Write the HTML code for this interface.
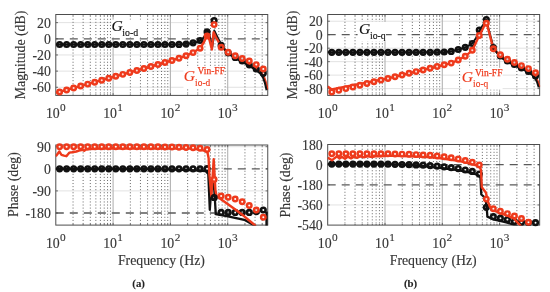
<!DOCTYPE html>
<html lang="en"><head><meta charset="utf-8"><title>Bode plots Gio-d / Gio-q with Vin-FF</title>
<style>html,body{margin:0;padding:0;background:#fff;}svg{display:block;}text{font-family:"Liberation Serif","Times New Roman",serif;stroke:#363636;stroke-width:0.14px;}.r{fill:#ee3a1c;stroke:#ee3a1c;}.k{fill:#111;stroke:#111;}</style></head><body>
<svg width="550" height="292" viewBox="0 0 550 292" font-size="13.8" fill="#363636">
<rect width="550" height="292" fill="#fff"/>
<g id="a-mag">
<line x1="55.8" x2="267.75" y1="22.64" y2="22.64" stroke="#e2e2e2" stroke-width="1"/>
<line x1="55.8" x2="267.75" y1="54.96" y2="54.96" stroke="#e2e2e2" stroke-width="1"/>
<line x1="55.8" x2="267.75" y1="71.12" y2="71.12" stroke="#e2e2e2" stroke-width="1"/>
<line x1="55.8" x2="267.75" y1="87.28" y2="87.28" stroke="#e2e2e2" stroke-width="1"/>
<line x1="73.05" x2="73.05" y1="15.7" y2="95.4" stroke="#666" stroke-width="1" stroke-dasharray="1 2.07"/>
<line x1="83.14" x2="83.14" y1="15.7" y2="95.4" stroke="#666" stroke-width="1" stroke-dasharray="1 2.07"/>
<line x1="90.3" x2="90.3" y1="15.7" y2="95.4" stroke="#666" stroke-width="1" stroke-dasharray="1 2.07"/>
<line x1="95.85" x2="95.85" y1="15.7" y2="95.4" stroke="#666" stroke-width="1" stroke-dasharray="1 2.07"/>
<line x1="100.39" x2="100.39" y1="15.7" y2="95.4" stroke="#666" stroke-width="1" stroke-dasharray="1 2.07"/>
<line x1="104.22" x2="104.22" y1="15.7" y2="95.4" stroke="#666" stroke-width="1" stroke-dasharray="1 2.07"/>
<line x1="107.55" x2="107.55" y1="15.7" y2="95.4" stroke="#666" stroke-width="1" stroke-dasharray="1 2.07"/>
<line x1="110.48" x2="110.48" y1="15.7" y2="95.4" stroke="#666" stroke-width="1" stroke-dasharray="1 2.07"/>
<line x1="130.35" x2="130.35" y1="15.7" y2="95.4" stroke="#666" stroke-width="1" stroke-dasharray="1 2.07"/>
<line x1="140.44" x2="140.44" y1="15.7" y2="95.4" stroke="#666" stroke-width="1" stroke-dasharray="1 2.07"/>
<line x1="147.6" x2="147.6" y1="15.7" y2="95.4" stroke="#666" stroke-width="1" stroke-dasharray="1 2.07"/>
<line x1="153.15" x2="153.15" y1="15.7" y2="95.4" stroke="#666" stroke-width="1" stroke-dasharray="1 2.07"/>
<line x1="157.69" x2="157.69" y1="15.7" y2="95.4" stroke="#666" stroke-width="1" stroke-dasharray="1 2.07"/>
<line x1="161.52" x2="161.52" y1="15.7" y2="95.4" stroke="#666" stroke-width="1" stroke-dasharray="1 2.07"/>
<line x1="164.85" x2="164.85" y1="15.7" y2="95.4" stroke="#666" stroke-width="1" stroke-dasharray="1 2.07"/>
<line x1="167.78" x2="167.78" y1="15.7" y2="95.4" stroke="#666" stroke-width="1" stroke-dasharray="1 2.07"/>
<line x1="187.65" x2="187.65" y1="15.7" y2="95.4" stroke="#666" stroke-width="1" stroke-dasharray="1 2.07"/>
<line x1="197.74" x2="197.74" y1="15.7" y2="95.4" stroke="#666" stroke-width="1" stroke-dasharray="1 2.07"/>
<line x1="204.9" x2="204.9" y1="15.7" y2="95.4" stroke="#666" stroke-width="1" stroke-dasharray="1 2.07"/>
<line x1="210.45" x2="210.45" y1="15.7" y2="95.4" stroke="#666" stroke-width="1" stroke-dasharray="1 2.07"/>
<line x1="214.99" x2="214.99" y1="15.7" y2="95.4" stroke="#666" stroke-width="1" stroke-dasharray="1 2.07"/>
<line x1="218.82" x2="218.82" y1="15.7" y2="95.4" stroke="#666" stroke-width="1" stroke-dasharray="1 2.07"/>
<line x1="222.15" x2="222.15" y1="15.7" y2="95.4" stroke="#666" stroke-width="1" stroke-dasharray="1 2.07"/>
<line x1="225.08" x2="225.08" y1="15.7" y2="95.4" stroke="#666" stroke-width="1" stroke-dasharray="1 2.07"/>
<line x1="244.95" x2="244.95" y1="15.7" y2="95.4" stroke="#666" stroke-width="1" stroke-dasharray="1 2.07"/>
<line x1="255.04" x2="255.04" y1="15.7" y2="95.4" stroke="#666" stroke-width="1" stroke-dasharray="1 2.07"/>
<line x1="262.2" x2="262.2" y1="15.7" y2="95.4" stroke="#666" stroke-width="1" stroke-dasharray="1 2.07"/>
<line x1="113.1" x2="113.1" y1="14.5" y2="95.4" stroke="#b3b3b3" stroke-width="1.1"/>
<line x1="170.4" x2="170.4" y1="14.5" y2="95.4" stroke="#b3b3b3" stroke-width="1.1"/>
<line x1="227.7" x2="227.7" y1="14.5" y2="95.4" stroke="#b3b3b3" stroke-width="1.1"/>
<line x1="55.8" x2="267.75" y1="38.8" y2="38.8" stroke="#5a5a5a" stroke-width="1.3" stroke-dasharray="8 6"/>
<rect x="111.6" y="19.6" width="34.8" height="17.8" fill="#fff"/>
<rect x="183.5" y="67.5" width="40.8" height="20.7" fill="#fff"/>
<clipPath id="cA"><rect x="55.5" y="13.7" width="212.85" height="82.2"/></clipPath>
<rect x="55.8" y="14.5" width="211.95" height="80.9" fill="none" stroke="#4d4d4d" stroke-width="1"/>
<path d="M55.8 22.64h2.2M267.75 22.64h-2.2M55.8 38.8h2.2M267.75 38.8h-2.2M55.8 54.96h2.2M267.75 54.96h-2.2M55.8 71.12h2.2M267.75 71.12h-2.2M55.8 87.28h2.2M267.75 87.28h-2.2M73.05 95.4v-1.1 M73.05 14.5v1.1M83.14 95.4v-1.1 M83.14 14.5v1.1M90.3 95.4v-1.1 M90.3 14.5v1.1M95.85 95.4v-1.1 M95.85 14.5v1.1M100.39 95.4v-1.1 M100.39 14.5v1.1M104.22 95.4v-1.1 M104.22 14.5v1.1M107.55 95.4v-1.1 M107.55 14.5v1.1M110.48 95.4v-1.1 M110.48 14.5v1.1M113.1 95.4v-2.2 M113.1 14.5v2.2M130.35 95.4v-1.1 M130.35 14.5v1.1M140.44 95.4v-1.1 M140.44 14.5v1.1M147.6 95.4v-1.1 M147.6 14.5v1.1M153.15 95.4v-1.1 M153.15 14.5v1.1M157.69 95.4v-1.1 M157.69 14.5v1.1M161.52 95.4v-1.1 M161.52 14.5v1.1M164.85 95.4v-1.1 M164.85 14.5v1.1M167.78 95.4v-1.1 M167.78 14.5v1.1M170.4 95.4v-2.2 M170.4 14.5v2.2M187.65 95.4v-1.1 M187.65 14.5v1.1M197.74 95.4v-1.1 M197.74 14.5v1.1M204.9 95.4v-1.1 M204.9 14.5v1.1M210.45 95.4v-1.1 M210.45 14.5v1.1M214.99 95.4v-1.1 M214.99 14.5v1.1M218.82 95.4v-1.1 M218.82 14.5v1.1M222.15 95.4v-1.1 M222.15 14.5v1.1M225.08 95.4v-1.1 M225.08 14.5v1.1M227.7 95.4v-2.2 M227.7 14.5v2.2M244.95 95.4v-1.1 M244.95 14.5v1.1M255.04 95.4v-1.1 M255.04 14.5v1.1M262.2 95.4v-1.1 M262.2 14.5v1.1" stroke="#4d4d4d" stroke-width="0.8" fill="none"/>
<g>
<polyline clip-path="url(#cA)" points="55.8,44.5 180,44.4 190,43.6 197,42 202,39.5 205,35.5 207.6,30.5 209,33 212.3,47 214.3,30.6 217.6,37.5 222.4,46.4 227.8,53.2" fill="none" stroke="#111111" stroke-width="2.0" stroke-linejoin="round" stroke-linecap="butt"/>
<circle cx="59.6" cy="44.5" r="2.3" fill="none" stroke="#111111" stroke-width="2.6"/>
<circle cx="66.62" cy="44.5" r="2.3" fill="none" stroke="#111111" stroke-width="2.6"/>
<circle cx="73.65" cy="44.5" r="2.3" fill="none" stroke="#111111" stroke-width="2.6"/>
<circle cx="80.67" cy="44.5" r="2.3" fill="none" stroke="#111111" stroke-width="2.6"/>
<circle cx="87.7" cy="44.5" r="2.3" fill="none" stroke="#111111" stroke-width="2.6"/>
<circle cx="94.72" cy="44.5" r="2.3" fill="none" stroke="#111111" stroke-width="2.6"/>
<circle cx="101.74" cy="44.5" r="2.3" fill="none" stroke="#111111" stroke-width="2.6"/>
<circle cx="108.77" cy="44.5" r="2.3" fill="none" stroke="#111111" stroke-width="2.6"/>
<circle cx="115.79" cy="44.5" r="2.3" fill="none" stroke="#111111" stroke-width="2.6"/>
<circle cx="122.82" cy="44.5" r="2.3" fill="none" stroke="#111111" stroke-width="2.6"/>
<circle cx="129.84" cy="44.5" r="2.3" fill="none" stroke="#111111" stroke-width="2.6"/>
<circle cx="136.86" cy="44.5" r="2.3" fill="none" stroke="#111111" stroke-width="2.6"/>
<circle cx="143.89" cy="44.5" r="2.3" fill="none" stroke="#111111" stroke-width="2.6"/>
<circle cx="150.91" cy="44.5" r="2.3" fill="none" stroke="#111111" stroke-width="2.6"/>
<circle cx="157.94" cy="44.5" r="2.3" fill="none" stroke="#111111" stroke-width="2.6"/>
<circle cx="164.96" cy="44.5" r="2.3" fill="none" stroke="#111111" stroke-width="2.6"/>
<circle cx="171.98" cy="44.5" r="2.3" fill="none" stroke="#111111" stroke-width="2.6"/>
<circle cx="179.01" cy="44.4" r="2.3" fill="none" stroke="#111111" stroke-width="2.6"/>
<circle cx="186.03" cy="44.1" r="2.3" fill="none" stroke="#111111" stroke-width="2.6"/>
<circle cx="193.06" cy="42.8" r="2.3" fill="none" stroke="#111111" stroke-width="2.6"/>
<circle cx="200.08" cy="40.5" r="2.3" fill="none" stroke="#111111" stroke-width="2.6"/>
<circle cx="207.1" cy="31.9" r="2.3" fill="none" stroke="#111111" stroke-width="2.6"/>
<circle cx="214.13" cy="20.5" r="2.3" fill="none" stroke="#111111" stroke-width="2.6"/>
<polyline clip-path="url(#cA)" points="55.8,92.6 59.6,91.9 66.62,89.95 73.65,88 80.67,86.05 87.7,84.1 94.72,82.15 101.74,80.2 108.77,78.25 115.79,76.3 122.82,74.35 129.84,72.4 136.86,70.45 143.89,68.5 150.91,66.5 157.94,64.5 164.96,62.5 171.98,60.4 179.01,58.2 186.03,55.7 193.06,52.6 200.08,48.3 204,42 207.4,34.5 209.5,40 211.9,49.5 213.6,32.2 215.8,37 221.2,46.6 228.2,52.8 235.2,57.2 242.2,61 249.2,64.8 256.3,69 261,72.6 263.6,76.2 265.6,82 267.5,89.6" fill="none" stroke="#ee3a1c" stroke-width="2.4" stroke-linejoin="round" stroke-linecap="butt"/>
<polyline clip-path="url(#cA)" points="222.4,46.4 227.6,53.2 234.6,57.8 241.6,61.6 248.6,65.4 255.6,69.8 260.2,73.4 262.8,77 264.8,82.6 266.6,90.2" fill="none" stroke="#111111" stroke-width="2.0" stroke-linejoin="round" stroke-linecap="butt"/>
<circle cx="221.15" cy="45.4" r="2.3" fill="none" stroke="#111111" stroke-width="2.6"/>
<circle cx="228.18" cy="52.8" r="2.3" fill="none" stroke="#111111" stroke-width="2.6"/>
<circle cx="235.2" cy="57.4" r="2.3" fill="none" stroke="#111111" stroke-width="2.6"/>
<circle cx="242.22" cy="61" r="2.3" fill="none" stroke="#111111" stroke-width="2.6"/>
<circle cx="249.25" cy="64.8" r="2.3" fill="none" stroke="#111111" stroke-width="2.6"/>
<circle cx="256.27" cy="69" r="2.3" fill="none" stroke="#111111" stroke-width="2.6"/>
<circle cx="263.3" cy="73.3" r="2.3" fill="none" stroke="#111111" stroke-width="2.6"/>
<circle cx="59.6" cy="91.9" r="2.25" fill="#fff" fill-opacity="0.82" stroke="#ee3a1c" stroke-width="2.45"/>
<circle cx="66.62" cy="89.95" r="2.25" fill="#fff" fill-opacity="0.82" stroke="#ee3a1c" stroke-width="2.45"/>
<circle cx="73.65" cy="88" r="2.25" fill="#fff" fill-opacity="0.82" stroke="#ee3a1c" stroke-width="2.45"/>
<circle cx="80.67" cy="86.05" r="2.25" fill="#fff" fill-opacity="0.82" stroke="#ee3a1c" stroke-width="2.45"/>
<circle cx="87.7" cy="84.1" r="2.25" fill="#fff" fill-opacity="0.82" stroke="#ee3a1c" stroke-width="2.45"/>
<circle cx="94.72" cy="82.15" r="2.25" fill="#fff" fill-opacity="0.82" stroke="#ee3a1c" stroke-width="2.45"/>
<circle cx="101.74" cy="80.2" r="2.25" fill="#fff" fill-opacity="0.82" stroke="#ee3a1c" stroke-width="2.45"/>
<circle cx="108.77" cy="78.25" r="2.25" fill="#fff" fill-opacity="0.82" stroke="#ee3a1c" stroke-width="2.45"/>
<circle cx="115.79" cy="76.3" r="2.25" fill="#fff" fill-opacity="0.82" stroke="#ee3a1c" stroke-width="2.45"/>
<circle cx="122.82" cy="74.35" r="2.25" fill="#fff" fill-opacity="0.82" stroke="#ee3a1c" stroke-width="2.45"/>
<circle cx="129.84" cy="72.4" r="2.25" fill="#fff" fill-opacity="0.82" stroke="#ee3a1c" stroke-width="2.45"/>
<circle cx="136.86" cy="70.45" r="2.25" fill="#fff" fill-opacity="0.82" stroke="#ee3a1c" stroke-width="2.45"/>
<circle cx="143.89" cy="68.5" r="2.25" fill="#fff" fill-opacity="0.82" stroke="#ee3a1c" stroke-width="2.45"/>
<circle cx="150.91" cy="66.5" r="2.25" fill="#fff" fill-opacity="0.82" stroke="#ee3a1c" stroke-width="2.45"/>
<circle cx="157.94" cy="64.5" r="2.25" fill="#fff" fill-opacity="0.82" stroke="#ee3a1c" stroke-width="2.45"/>
<circle cx="164.96" cy="62.5" r="2.25" fill="#fff" fill-opacity="0.82" stroke="#ee3a1c" stroke-width="2.45"/>
<circle cx="171.98" cy="60.4" r="2.25" fill="#fff" fill-opacity="0.82" stroke="#ee3a1c" stroke-width="2.45"/>
<circle cx="179.01" cy="58.2" r="2.25" fill="#fff" fill-opacity="0.82" stroke="#ee3a1c" stroke-width="2.45"/>
<circle cx="186.03" cy="55.7" r="2.25" fill="#fff" fill-opacity="0.82" stroke="#ee3a1c" stroke-width="2.45"/>
<circle cx="193.06" cy="52.6" r="2.25" fill="#fff" fill-opacity="0.82" stroke="#ee3a1c" stroke-width="2.45"/>
<circle cx="200.08" cy="48.3" r="2.25" fill="#fff" fill-opacity="0.82" stroke="#ee3a1c" stroke-width="2.45"/>
<circle cx="207.1" cy="36" r="2.25" fill="#fff" fill-opacity="0.82" stroke="#ee3a1c" stroke-width="2.45"/>
<circle cx="214.13" cy="24.6" r="2.25" fill="#fff" fill-opacity="0.82" stroke="#ee3a1c" stroke-width="2.45"/>
<circle cx="221.15" cy="47.2" r="2.25" fill="none" stroke="#ee3a1c" stroke-width="2.45"/>
<circle cx="228.18" cy="52.2" r="2.25" fill="#fff" fill-opacity="0.82" stroke="#ee3a1c" stroke-width="2.45"/>
<circle cx="235.2" cy="55.8" r="2.25" fill="#fff" fill-opacity="0.82" stroke="#ee3a1c" stroke-width="2.45"/>
<circle cx="242.22" cy="58.4" r="2.25" fill="#fff" fill-opacity="0.82" stroke="#ee3a1c" stroke-width="2.45"/>
<circle cx="249.25" cy="61" r="2.25" fill="#fff" fill-opacity="0.82" stroke="#ee3a1c" stroke-width="2.45"/>
<circle cx="256.27" cy="64.6" r="2.25" fill="#fff" fill-opacity="0.82" stroke="#ee3a1c" stroke-width="2.45"/>
<circle cx="263.3" cy="69" r="2.25" fill="#fff" fill-opacity="0.82" stroke="#ee3a1c" stroke-width="2.45"/>
<circle cx="207.1" cy="36" r="1.6" fill="#ee3a1c"/>
</g>
<text x="111.4" y="31.2" class="k" font-size="15.6" font-style="italic">G</text>
<text x="122.3" y="36" class="k" font-size="9.9">io-d</text>
<text x="183.8" y="80.8" class="r" font-size="15.6" font-style="italic">G</text>
<text x="195.1" y="85.5" class="r" font-size="9.4">io-d</text>
<text x="197.5" y="74.4" class="r" font-size="9.5" style="stroke-width:0.25px">Vin-FF</text>
<text x="50.8" y="27.74" text-anchor="end">20</text>
<text x="50.8" y="43.9" text-anchor="end">0</text>
<text x="50.8" y="60.06" text-anchor="end">-20</text>
<text x="50.8" y="76.22" text-anchor="end">-40</text>
<text x="50.8" y="92.38" text-anchor="end">-60</text>
<text x="45.88" y="117.8">10<tspan dx="0.4" dy="-6.5" font-size="11.3">0</tspan></text>
<text x="103.17" y="117.8">10<tspan dx="0.4" dy="-6.5" font-size="11.3">1</tspan></text>
<text x="160.47" y="117.8">10<tspan dx="0.4" dy="-6.5" font-size="11.3">2</tspan></text>
<text x="217.77" y="117.8">10<tspan dx="0.4" dy="-6.5" font-size="11.3">3</tspan></text>
<text transform="translate(24.6 55) rotate(-90)" text-anchor="middle">Magnitude (dB)</text>
</g>
<g id="a-ph">
<line x1="55.8" x2="267.75" y1="146.7" y2="146.7" stroke="#e2e2e2" stroke-width="1"/>
<line x1="55.8" x2="267.75" y1="190.9" y2="190.9" stroke="#e2e2e2" stroke-width="1"/>
<line x1="73.05" x2="73.05" y1="146.2" y2="225.1" stroke="#666" stroke-width="1" stroke-dasharray="1 2.07"/>
<line x1="83.14" x2="83.14" y1="146.2" y2="225.1" stroke="#666" stroke-width="1" stroke-dasharray="1 2.07"/>
<line x1="90.3" x2="90.3" y1="146.2" y2="225.1" stroke="#666" stroke-width="1" stroke-dasharray="1 2.07"/>
<line x1="95.85" x2="95.85" y1="146.2" y2="225.1" stroke="#666" stroke-width="1" stroke-dasharray="1 2.07"/>
<line x1="100.39" x2="100.39" y1="146.2" y2="225.1" stroke="#666" stroke-width="1" stroke-dasharray="1 2.07"/>
<line x1="104.22" x2="104.22" y1="146.2" y2="225.1" stroke="#666" stroke-width="1" stroke-dasharray="1 2.07"/>
<line x1="107.55" x2="107.55" y1="146.2" y2="225.1" stroke="#666" stroke-width="1" stroke-dasharray="1 2.07"/>
<line x1="110.48" x2="110.48" y1="146.2" y2="225.1" stroke="#666" stroke-width="1" stroke-dasharray="1 2.07"/>
<line x1="130.35" x2="130.35" y1="146.2" y2="225.1" stroke="#666" stroke-width="1" stroke-dasharray="1 2.07"/>
<line x1="140.44" x2="140.44" y1="146.2" y2="225.1" stroke="#666" stroke-width="1" stroke-dasharray="1 2.07"/>
<line x1="147.6" x2="147.6" y1="146.2" y2="225.1" stroke="#666" stroke-width="1" stroke-dasharray="1 2.07"/>
<line x1="153.15" x2="153.15" y1="146.2" y2="225.1" stroke="#666" stroke-width="1" stroke-dasharray="1 2.07"/>
<line x1="157.69" x2="157.69" y1="146.2" y2="225.1" stroke="#666" stroke-width="1" stroke-dasharray="1 2.07"/>
<line x1="161.52" x2="161.52" y1="146.2" y2="225.1" stroke="#666" stroke-width="1" stroke-dasharray="1 2.07"/>
<line x1="164.85" x2="164.85" y1="146.2" y2="225.1" stroke="#666" stroke-width="1" stroke-dasharray="1 2.07"/>
<line x1="167.78" x2="167.78" y1="146.2" y2="225.1" stroke="#666" stroke-width="1" stroke-dasharray="1 2.07"/>
<line x1="187.65" x2="187.65" y1="146.2" y2="225.1" stroke="#666" stroke-width="1" stroke-dasharray="1 2.07"/>
<line x1="197.74" x2="197.74" y1="146.2" y2="225.1" stroke="#666" stroke-width="1" stroke-dasharray="1 2.07"/>
<line x1="204.9" x2="204.9" y1="146.2" y2="225.1" stroke="#666" stroke-width="1" stroke-dasharray="1 2.07"/>
<line x1="210.45" x2="210.45" y1="146.2" y2="225.1" stroke="#666" stroke-width="1" stroke-dasharray="1 2.07"/>
<line x1="214.99" x2="214.99" y1="146.2" y2="225.1" stroke="#666" stroke-width="1" stroke-dasharray="1 2.07"/>
<line x1="218.82" x2="218.82" y1="146.2" y2="225.1" stroke="#666" stroke-width="1" stroke-dasharray="1 2.07"/>
<line x1="222.15" x2="222.15" y1="146.2" y2="225.1" stroke="#666" stroke-width="1" stroke-dasharray="1 2.07"/>
<line x1="225.08" x2="225.08" y1="146.2" y2="225.1" stroke="#666" stroke-width="1" stroke-dasharray="1 2.07"/>
<line x1="244.95" x2="244.95" y1="146.2" y2="225.1" stroke="#666" stroke-width="1" stroke-dasharray="1 2.07"/>
<line x1="255.04" x2="255.04" y1="146.2" y2="225.1" stroke="#666" stroke-width="1" stroke-dasharray="1 2.07"/>
<line x1="262.2" x2="262.2" y1="146.2" y2="225.1" stroke="#666" stroke-width="1" stroke-dasharray="1 2.07"/>
<line x1="113.1" x2="113.1" y1="145" y2="225.1" stroke="#b3b3b3" stroke-width="1.1"/>
<line x1="170.4" x2="170.4" y1="145" y2="225.1" stroke="#b3b3b3" stroke-width="1.1"/>
<line x1="227.7" x2="227.7" y1="145" y2="225.1" stroke="#b3b3b3" stroke-width="1.1"/>
<line x1="55.8" x2="267.75" y1="168.8" y2="168.8" stroke="#5a5a5a" stroke-width="1.3" stroke-dasharray="8 6"/>
<line x1="55.8" x2="267.75" y1="213.01" y2="213.01" stroke="#5a5a5a" stroke-width="1.3" stroke-dasharray="8 6"/>
<clipPath id="cAp"><rect x="55.5" y="144.2" width="212.85" height="81.4"/></clipPath>
<rect x="55.8" y="145" width="211.95" height="80.1" fill="none" stroke="#4d4d4d" stroke-width="1"/>
<path d="M55.8 146.7h2.2M267.75 146.7h-2.2M55.8 168.8h2.2M267.75 168.8h-2.2M55.8 190.9h2.2M267.75 190.9h-2.2M55.8 213.01h2.2M267.75 213.01h-2.2M73.05 225.1v-1.1 M73.05 145v1.1M83.14 225.1v-1.1 M83.14 145v1.1M90.3 225.1v-1.1 M90.3 145v1.1M95.85 225.1v-1.1 M95.85 145v1.1M100.39 225.1v-1.1 M100.39 145v1.1M104.22 225.1v-1.1 M104.22 145v1.1M107.55 225.1v-1.1 M107.55 145v1.1M110.48 225.1v-1.1 M110.48 145v1.1M113.1 225.1v-2.2 M113.1 145v2.2M130.35 225.1v-1.1 M130.35 145v1.1M140.44 225.1v-1.1 M140.44 145v1.1M147.6 225.1v-1.1 M147.6 145v1.1M153.15 225.1v-1.1 M153.15 145v1.1M157.69 225.1v-1.1 M157.69 145v1.1M161.52 225.1v-1.1 M161.52 145v1.1M164.85 225.1v-1.1 M164.85 145v1.1M167.78 225.1v-1.1 M167.78 145v1.1M170.4 225.1v-2.2 M170.4 145v2.2M187.65 225.1v-1.1 M187.65 145v1.1M197.74 225.1v-1.1 M197.74 145v1.1M204.9 225.1v-1.1 M204.9 145v1.1M210.45 225.1v-1.1 M210.45 145v1.1M214.99 225.1v-1.1 M214.99 145v1.1M218.82 225.1v-1.1 M218.82 145v1.1M222.15 225.1v-1.1 M222.15 145v1.1M225.08 225.1v-1.1 M225.08 145v1.1M227.7 225.1v-2.2 M227.7 145v2.2M244.95 225.1v-1.1 M244.95 145v1.1M255.04 225.1v-1.1 M255.04 145v1.1M262.2 225.1v-1.1 M262.2 145v1.1" stroke="#4d4d4d" stroke-width="0.8" fill="none"/>
<g>
<polyline clip-path="url(#cAp)" points="55.8,168.8 150,168.9 175,169.6 195,170.4 205.5,171 208.3,174 209.8,209.8 211.2,190 212.8,183 214.3,190 215.8,214.1 228,216.3 244.3,219.8 252.7,224.6 256,227" fill="none" stroke="#111111" stroke-width="2.3" stroke-linejoin="round" stroke-linecap="butt"/>
<polyline clip-path="url(#cAp)" points="266.5,211.6 266.5,226" fill="none" stroke="#111111" stroke-width="2.3" stroke-linejoin="round" stroke-linecap="butt"/>
<circle cx="59.6" cy="168.8" r="2.3" fill="none" stroke="#111111" stroke-width="2.6"/>
<circle cx="66.62" cy="168.8" r="2.3" fill="none" stroke="#111111" stroke-width="2.6"/>
<circle cx="73.65" cy="168.8" r="2.3" fill="none" stroke="#111111" stroke-width="2.6"/>
<circle cx="80.67" cy="168.8" r="2.3" fill="none" stroke="#111111" stroke-width="2.6"/>
<circle cx="87.7" cy="168.8" r="2.3" fill="none" stroke="#111111" stroke-width="2.6"/>
<circle cx="94.72" cy="168.8" r="2.3" fill="none" stroke="#111111" stroke-width="2.6"/>
<circle cx="101.74" cy="168.8" r="2.3" fill="none" stroke="#111111" stroke-width="2.6"/>
<circle cx="108.77" cy="168.8" r="2.3" fill="none" stroke="#111111" stroke-width="2.6"/>
<circle cx="115.79" cy="168.8" r="2.3" fill="none" stroke="#111111" stroke-width="2.6"/>
<circle cx="122.82" cy="168.8" r="2.3" fill="none" stroke="#111111" stroke-width="2.6"/>
<circle cx="129.84" cy="168.8" r="2.3" fill="none" stroke="#111111" stroke-width="2.6"/>
<circle cx="136.86" cy="168.8" r="2.3" fill="none" stroke="#111111" stroke-width="2.6"/>
<circle cx="143.89" cy="168.8" r="2.3" fill="none" stroke="#111111" stroke-width="2.6"/>
<circle cx="150.91" cy="168.8" r="2.3" fill="none" stroke="#111111" stroke-width="2.6"/>
<circle cx="157.94" cy="168.8" r="2.3" fill="none" stroke="#111111" stroke-width="2.6"/>
<circle cx="164.96" cy="168.8" r="2.3" fill="none" stroke="#111111" stroke-width="2.6"/>
<circle cx="171.98" cy="168.8" r="2.3" fill="none" stroke="#111111" stroke-width="2.6"/>
<circle cx="179.01" cy="168.8" r="2.3" fill="none" stroke="#111111" stroke-width="2.6"/>
<circle cx="186.03" cy="168.8" r="2.3" fill="none" stroke="#111111" stroke-width="2.6"/>
<circle cx="193.06" cy="168.8" r="2.3" fill="none" stroke="#111111" stroke-width="2.6"/>
<circle cx="200.08" cy="168.8" r="2.3" fill="none" stroke="#111111" stroke-width="2.6"/>
<circle cx="207.1" cy="168.7" r="2.3" fill="none" stroke="#111111" stroke-width="2.6"/>
<circle cx="214.13" cy="197.4" r="2.3" fill="none" stroke="#111111" stroke-width="2.6"/>
<circle cx="221.15" cy="212.4" r="2.3" fill="none" stroke="#111111" stroke-width="2.6"/>
<circle cx="228.18" cy="212.4" r="2.3" fill="none" stroke="#111111" stroke-width="2.6"/>
<circle cx="235.2" cy="212.4" r="2.3" fill="none" stroke="#111111" stroke-width="2.6"/>
<circle cx="242.22" cy="212.4" r="2.3" fill="none" stroke="#111111" stroke-width="2.6"/>
<circle cx="249.25" cy="212.4" r="2.3" fill="none" stroke="#111111" stroke-width="2.6"/>
<circle cx="256.27" cy="211.6" r="2.3" fill="none" stroke="#111111" stroke-width="2.6"/>
<circle cx="263.3" cy="210" r="2.3" fill="none" stroke="#111111" stroke-width="2.6"/>
<polyline clip-path="url(#cAp)" points="55.8,156.4 57.5,154 59.3,151.5 61.5,154.8 64,155.6 66.4,156.2 68,154.2 69.4,152.6 72,152.3 76.3,151.5 79,150.6 82.9,149.9 84.2,150.8 86,149.5 90,149 95,148.8 110,148.3 190,148.6 200,149.6 205.5,151 207.6,153 208.6,158 209.4,175 211.4,196.5 213.7,159.3 215.4,190 216.6,196 221,199.2 228,204.3 236,210 244.3,216.3 251,222 255.8,226" fill="none" stroke="#ee3a1c" stroke-width="2.4" stroke-linejoin="round" stroke-linecap="butt"/>
<circle cx="59.6" cy="146.8" r="2.25" fill="#fff" fill-opacity="0.82" stroke="#ee3a1c" stroke-width="2.45"/>
<circle cx="66.62" cy="146.8" r="2.25" fill="#fff" fill-opacity="0.82" stroke="#ee3a1c" stroke-width="2.45"/>
<circle cx="73.65" cy="146.8" r="2.25" fill="#fff" fill-opacity="0.82" stroke="#ee3a1c" stroke-width="2.45"/>
<circle cx="80.67" cy="146.8" r="2.25" fill="#fff" fill-opacity="0.82" stroke="#ee3a1c" stroke-width="2.45"/>
<circle cx="87.7" cy="146.8" r="2.25" fill="#fff" fill-opacity="0.82" stroke="#ee3a1c" stroke-width="2.45"/>
<circle cx="94.72" cy="146.8" r="2.25" fill="#fff" fill-opacity="0.82" stroke="#ee3a1c" stroke-width="2.45"/>
<circle cx="101.74" cy="146.8" r="2.25" fill="#fff" fill-opacity="0.82" stroke="#ee3a1c" stroke-width="2.45"/>
<circle cx="108.77" cy="146.8" r="2.25" fill="#fff" fill-opacity="0.82" stroke="#ee3a1c" stroke-width="2.45"/>
<circle cx="115.79" cy="146.8" r="2.25" fill="#fff" fill-opacity="0.82" stroke="#ee3a1c" stroke-width="2.45"/>
<circle cx="122.82" cy="146.8" r="2.25" fill="#fff" fill-opacity="0.82" stroke="#ee3a1c" stroke-width="2.45"/>
<circle cx="129.84" cy="146.8" r="2.25" fill="#fff" fill-opacity="0.82" stroke="#ee3a1c" stroke-width="2.45"/>
<circle cx="136.86" cy="146.8" r="2.25" fill="#fff" fill-opacity="0.82" stroke="#ee3a1c" stroke-width="2.45"/>
<circle cx="143.89" cy="146.8" r="2.25" fill="#fff" fill-opacity="0.82" stroke="#ee3a1c" stroke-width="2.45"/>
<circle cx="150.91" cy="146.8" r="2.25" fill="#fff" fill-opacity="0.82" stroke="#ee3a1c" stroke-width="2.45"/>
<circle cx="157.94" cy="146.8" r="2.25" fill="#fff" fill-opacity="0.82" stroke="#ee3a1c" stroke-width="2.45"/>
<circle cx="164.96" cy="146.9" r="2.25" fill="#fff" fill-opacity="0.82" stroke="#ee3a1c" stroke-width="2.45"/>
<circle cx="171.98" cy="147" r="2.25" fill="#fff" fill-opacity="0.82" stroke="#ee3a1c" stroke-width="2.45"/>
<circle cx="179.01" cy="147.2" r="2.25" fill="#fff" fill-opacity="0.82" stroke="#ee3a1c" stroke-width="2.45"/>
<circle cx="186.03" cy="147.4" r="2.25" fill="#fff" fill-opacity="0.82" stroke="#ee3a1c" stroke-width="2.45"/>
<circle cx="193.06" cy="147.7" r="2.25" fill="#fff" fill-opacity="0.82" stroke="#ee3a1c" stroke-width="2.45"/>
<circle cx="200.08" cy="148.3" r="2.25" fill="#fff" fill-opacity="0.82" stroke="#ee3a1c" stroke-width="2.45"/>
<circle cx="207.1" cy="149.5" r="2.25" fill="#fff" fill-opacity="0.82" stroke="#ee3a1c" stroke-width="2.45"/>
<circle cx="214.13" cy="179.5" r="2.25" fill="#fff" fill-opacity="0.82" stroke="#ee3a1c" stroke-width="2.45"/>
<circle cx="221.15" cy="196" r="2.25" fill="#fff" fill-opacity="0.82" stroke="#ee3a1c" stroke-width="2.45"/>
<circle cx="228.18" cy="197.3" r="2.25" fill="#fff" fill-opacity="0.82" stroke="#ee3a1c" stroke-width="2.45"/>
<circle cx="235.2" cy="199" r="2.25" fill="#fff" fill-opacity="0.82" stroke="#ee3a1c" stroke-width="2.45"/>
<circle cx="242.22" cy="201.8" r="2.25" fill="#fff" fill-opacity="0.82" stroke="#ee3a1c" stroke-width="2.45"/>
<circle cx="249.25" cy="205.5" r="2.25" fill="#fff" fill-opacity="0.82" stroke="#ee3a1c" stroke-width="2.45"/>
<circle cx="256.27" cy="210" r="2.25" fill="#fff" fill-opacity="0.82" stroke="#ee3a1c" stroke-width="2.45"/>
<circle cx="263.3" cy="217.3" r="2.25" fill="#fff" fill-opacity="0.82" stroke="#ee3a1c" stroke-width="2.45"/>
<circle cx="214.13" cy="197.4" r="2.3" fill="none" stroke="#111111" stroke-width="2.4"/>
</g>
<text x="50.8" y="151.8" text-anchor="end">90</text>
<text x="50.8" y="173.9" text-anchor="end">0</text>
<text x="50.8" y="196" text-anchor="end">-90</text>
<text x="50.8" y="218.11" text-anchor="end">-180</text>
<text x="45.88" y="247.5">10<tspan dx="0.4" dy="-6.5" font-size="11.3">0</tspan></text>
<text x="103.17" y="247.5">10<tspan dx="0.4" dy="-6.5" font-size="11.3">1</tspan></text>
<text x="160.47" y="247.5">10<tspan dx="0.4" dy="-6.5" font-size="11.3">2</tspan></text>
<text x="217.77" y="247.5">10<tspan dx="0.4" dy="-6.5" font-size="11.3">3</tspan></text>
<text transform="translate(17.5 184.6) rotate(-90)" text-anchor="middle">Phase (deg)</text>
<text x="161.4" y="265.3" text-anchor="middle">Frequency (Hz)</text>
<text x="138.6" y="286.6" text-anchor="middle" font-size="10.8" font-weight="bold" fill="#222">(a)</text>
</g>
<g id="b-mag">
<line x1="327.7" x2="539.65" y1="21.22" y2="21.22" stroke="#e2e2e2" stroke-width="1"/>
<line x1="327.7" x2="539.65" y1="48.18" y2="48.18" stroke="#e2e2e2" stroke-width="1"/>
<line x1="327.7" x2="539.65" y1="61.66" y2="61.66" stroke="#e2e2e2" stroke-width="1"/>
<line x1="327.7" x2="539.65" y1="75.14" y2="75.14" stroke="#e2e2e2" stroke-width="1"/>
<line x1="327.7" x2="539.65" y1="88.62" y2="88.62" stroke="#e2e2e2" stroke-width="1"/>
<line x1="344.95" x2="344.95" y1="15.7" y2="95.4" stroke="#666" stroke-width="1" stroke-dasharray="1 2.07"/>
<line x1="355.04" x2="355.04" y1="15.7" y2="95.4" stroke="#666" stroke-width="1" stroke-dasharray="1 2.07"/>
<line x1="362.2" x2="362.2" y1="15.7" y2="95.4" stroke="#666" stroke-width="1" stroke-dasharray="1 2.07"/>
<line x1="367.75" x2="367.75" y1="15.7" y2="95.4" stroke="#666" stroke-width="1" stroke-dasharray="1 2.07"/>
<line x1="372.29" x2="372.29" y1="15.7" y2="95.4" stroke="#666" stroke-width="1" stroke-dasharray="1 2.07"/>
<line x1="376.12" x2="376.12" y1="15.7" y2="95.4" stroke="#666" stroke-width="1" stroke-dasharray="1 2.07"/>
<line x1="379.45" x2="379.45" y1="15.7" y2="95.4" stroke="#666" stroke-width="1" stroke-dasharray="1 2.07"/>
<line x1="382.38" x2="382.38" y1="15.7" y2="95.4" stroke="#666" stroke-width="1" stroke-dasharray="1 2.07"/>
<line x1="402.25" x2="402.25" y1="15.7" y2="95.4" stroke="#666" stroke-width="1" stroke-dasharray="1 2.07"/>
<line x1="412.34" x2="412.34" y1="15.7" y2="95.4" stroke="#666" stroke-width="1" stroke-dasharray="1 2.07"/>
<line x1="419.5" x2="419.5" y1="15.7" y2="95.4" stroke="#666" stroke-width="1" stroke-dasharray="1 2.07"/>
<line x1="425.05" x2="425.05" y1="15.7" y2="95.4" stroke="#666" stroke-width="1" stroke-dasharray="1 2.07"/>
<line x1="429.59" x2="429.59" y1="15.7" y2="95.4" stroke="#666" stroke-width="1" stroke-dasharray="1 2.07"/>
<line x1="433.42" x2="433.42" y1="15.7" y2="95.4" stroke="#666" stroke-width="1" stroke-dasharray="1 2.07"/>
<line x1="436.75" x2="436.75" y1="15.7" y2="95.4" stroke="#666" stroke-width="1" stroke-dasharray="1 2.07"/>
<line x1="439.68" x2="439.68" y1="15.7" y2="95.4" stroke="#666" stroke-width="1" stroke-dasharray="1 2.07"/>
<line x1="459.55" x2="459.55" y1="15.7" y2="95.4" stroke="#666" stroke-width="1" stroke-dasharray="1 2.07"/>
<line x1="469.64" x2="469.64" y1="15.7" y2="95.4" stroke="#666" stroke-width="1" stroke-dasharray="1 2.07"/>
<line x1="476.8" x2="476.8" y1="15.7" y2="95.4" stroke="#666" stroke-width="1" stroke-dasharray="1 2.07"/>
<line x1="482.35" x2="482.35" y1="15.7" y2="95.4" stroke="#666" stroke-width="1" stroke-dasharray="1 2.07"/>
<line x1="486.89" x2="486.89" y1="15.7" y2="95.4" stroke="#666" stroke-width="1" stroke-dasharray="1 2.07"/>
<line x1="490.72" x2="490.72" y1="15.7" y2="95.4" stroke="#666" stroke-width="1" stroke-dasharray="1 2.07"/>
<line x1="494.05" x2="494.05" y1="15.7" y2="95.4" stroke="#666" stroke-width="1" stroke-dasharray="1 2.07"/>
<line x1="496.98" x2="496.98" y1="15.7" y2="95.4" stroke="#666" stroke-width="1" stroke-dasharray="1 2.07"/>
<line x1="516.85" x2="516.85" y1="15.7" y2="95.4" stroke="#666" stroke-width="1" stroke-dasharray="1 2.07"/>
<line x1="526.94" x2="526.94" y1="15.7" y2="95.4" stroke="#666" stroke-width="1" stroke-dasharray="1 2.07"/>
<line x1="534.1" x2="534.1" y1="15.7" y2="95.4" stroke="#666" stroke-width="1" stroke-dasharray="1 2.07"/>
<line x1="385" x2="385" y1="14.5" y2="95.4" stroke="#b3b3b3" stroke-width="1.1"/>
<line x1="442.3" x2="442.3" y1="14.5" y2="95.4" stroke="#b3b3b3" stroke-width="1.1"/>
<line x1="499.6" x2="499.6" y1="14.5" y2="95.4" stroke="#b3b3b3" stroke-width="1.1"/>
<line x1="327.7" x2="539.65" y1="34.7" y2="34.7" stroke="#5a5a5a" stroke-width="1.3" stroke-dasharray="8 6"/>
<rect x="357.6" y="22" width="28.4" height="19.3" fill="#fff"/>
<rect x="461.5" y="67.8" width="41.1" height="21.8" fill="#fff"/>
<clipPath id="cB"><rect x="327.4" y="13.7" width="212.85" height="82.2"/></clipPath>
<rect x="327.7" y="14.5" width="211.95" height="80.9" fill="none" stroke="#4d4d4d" stroke-width="1"/>
<path d="M327.7 21.22h2.2M539.65 21.22h-2.2M327.7 34.7h2.2M539.65 34.7h-2.2M327.7 48.18h2.2M539.65 48.18h-2.2M327.7 61.66h2.2M539.65 61.66h-2.2M327.7 75.14h2.2M539.65 75.14h-2.2M327.7 88.62h2.2M539.65 88.62h-2.2M344.95 95.4v-1.1 M344.95 14.5v1.1M355.04 95.4v-1.1 M355.04 14.5v1.1M362.2 95.4v-1.1 M362.2 14.5v1.1M367.75 95.4v-1.1 M367.75 14.5v1.1M372.29 95.4v-1.1 M372.29 14.5v1.1M376.12 95.4v-1.1 M376.12 14.5v1.1M379.45 95.4v-1.1 M379.45 14.5v1.1M382.38 95.4v-1.1 M382.38 14.5v1.1M385 95.4v-2.2 M385 14.5v2.2M402.25 95.4v-1.1 M402.25 14.5v1.1M412.34 95.4v-1.1 M412.34 14.5v1.1M419.5 95.4v-1.1 M419.5 14.5v1.1M425.05 95.4v-1.1 M425.05 14.5v1.1M429.59 95.4v-1.1 M429.59 14.5v1.1M433.42 95.4v-1.1 M433.42 14.5v1.1M436.75 95.4v-1.1 M436.75 14.5v1.1M439.68 95.4v-1.1 M439.68 14.5v1.1M442.3 95.4v-2.2 M442.3 14.5v2.2M459.55 95.4v-1.1 M459.55 14.5v1.1M469.64 95.4v-1.1 M469.64 14.5v1.1M476.8 95.4v-1.1 M476.8 14.5v1.1M482.35 95.4v-1.1 M482.35 14.5v1.1M486.89 95.4v-1.1 M486.89 14.5v1.1M490.72 95.4v-1.1 M490.72 14.5v1.1M494.05 95.4v-1.1 M494.05 14.5v1.1M496.98 95.4v-1.1 M496.98 14.5v1.1M499.6 95.4v-2.2 M499.6 14.5v2.2M516.85 95.4v-1.1 M516.85 14.5v1.1M526.94 95.4v-1.1 M526.94 14.5v1.1M534.1 95.4v-1.1 M534.1 14.5v1.1" stroke="#4d4d4d" stroke-width="0.8" fill="none"/>
<g>
<polyline clip-path="url(#cB)" points="327.7,52.3 430.14,52.3 437.16,52.2 444.18,52 451.21,51.4 458.23,49.5 465.26,47.3 472.28,43.5 476,38 479.4,30.5 483,25 486.2,19.5 489.4,32 493.8,48.5 499.8,56.2" fill="none" stroke="#111111" stroke-width="1.9" stroke-linejoin="round" stroke-linecap="butt"/>
<circle cx="331.8" cy="52.3" r="2.3" fill="none" stroke="#111111" stroke-width="2.6"/>
<circle cx="338.82" cy="52.3" r="2.3" fill="none" stroke="#111111" stroke-width="2.6"/>
<circle cx="345.85" cy="52.3" r="2.3" fill="none" stroke="#111111" stroke-width="2.6"/>
<circle cx="352.87" cy="52.3" r="2.3" fill="none" stroke="#111111" stroke-width="2.6"/>
<circle cx="359.9" cy="52.3" r="2.3" fill="none" stroke="#111111" stroke-width="2.6"/>
<circle cx="366.92" cy="52.3" r="2.3" fill="none" stroke="#111111" stroke-width="2.6"/>
<circle cx="373.94" cy="52.3" r="2.3" fill="none" stroke="#111111" stroke-width="2.6"/>
<circle cx="380.97" cy="52.3" r="2.3" fill="none" stroke="#111111" stroke-width="2.6"/>
<circle cx="387.99" cy="52.3" r="2.3" fill="none" stroke="#111111" stroke-width="2.6"/>
<circle cx="395.02" cy="52.3" r="2.3" fill="none" stroke="#111111" stroke-width="2.6"/>
<circle cx="402.04" cy="52.3" r="2.3" fill="none" stroke="#111111" stroke-width="2.6"/>
<circle cx="409.06" cy="52.3" r="2.3" fill="none" stroke="#111111" stroke-width="2.6"/>
<circle cx="416.09" cy="52.3" r="2.3" fill="none" stroke="#111111" stroke-width="2.6"/>
<circle cx="423.11" cy="52.3" r="2.3" fill="none" stroke="#111111" stroke-width="2.6"/>
<circle cx="430.14" cy="52.3" r="2.3" fill="none" stroke="#111111" stroke-width="2.6"/>
<circle cx="437.16" cy="52.2" r="2.3" fill="none" stroke="#111111" stroke-width="2.6"/>
<circle cx="444.18" cy="52" r="2.3" fill="none" stroke="#111111" stroke-width="2.6"/>
<circle cx="451.21" cy="51.4" r="2.3" fill="none" stroke="#111111" stroke-width="2.6"/>
<circle cx="458.23" cy="49.5" r="2.3" fill="none" stroke="#111111" stroke-width="2.6"/>
<circle cx="465.26" cy="47.3" r="2.3" fill="none" stroke="#111111" stroke-width="2.6"/>
<circle cx="472.28" cy="43.5" r="2.3" fill="none" stroke="#111111" stroke-width="2.6"/>
<circle cx="479.3" cy="30" r="2.3" fill="none" stroke="#111111" stroke-width="2.6"/>
<circle cx="486.33" cy="19.5" r="2.3" fill="none" stroke="#111111" stroke-width="2.6"/>
<polyline clip-path="url(#cB)" points="327.7,86.6 331.8,89.4 338.82,88.02 345.85,86.65 352.87,85.28 359.9,83.9 366.92,82.53 373.94,81.15 380.97,79.77 387.99,78.4 395.02,76.7 402.04,75 409.06,73.3 416.09,71.6 423.11,69.9 430.14,68.2 437.16,66.5 444.18,64.8 451.21,63.1 458.23,60 465.26,56.3 472.28,50.3 479.3,35.5 483,28.5 486.2,21.2 489,32 493.2,48.4 500.4,56 507.4,61 514.4,64.5 521.4,68 528.5,71.5 533,74.5 535.8,77.5 537.8,81.5 539.5,86.8" fill="none" stroke="#ee3a1c" stroke-width="2.4" stroke-linejoin="round" stroke-linecap="butt"/>
<polyline clip-path="url(#cB)" points="493.8,48.5 499.6,56.4 506.6,61.4 513.6,64.9 520.6,68.4 527.7,71.9 532.2,74.9 535,78 537,82 538.7,87.4" fill="none" stroke="#111111" stroke-width="1.9" stroke-linejoin="round" stroke-linecap="butt"/>
<circle cx="493.35" cy="47.7" r="2.3" fill="none" stroke="#111111" stroke-width="2.6"/>
<circle cx="500.38" cy="56" r="2.3" fill="none" stroke="#111111" stroke-width="2.6"/>
<circle cx="507.4" cy="61" r="2.3" fill="none" stroke="#111111" stroke-width="2.6"/>
<circle cx="514.42" cy="64.5" r="2.3" fill="none" stroke="#111111" stroke-width="2.6"/>
<circle cx="521.45" cy="68" r="2.3" fill="none" stroke="#111111" stroke-width="2.6"/>
<circle cx="528.47" cy="71.5" r="2.3" fill="none" stroke="#111111" stroke-width="2.6"/>
<circle cx="535.5" cy="76" r="2.3" fill="none" stroke="#111111" stroke-width="2.6"/>
<circle cx="331.8" cy="92" r="2.25" fill="#fff" fill-opacity="0.82" stroke="#ee3a1c" stroke-width="2.45"/>
<circle cx="338.82" cy="90.3" r="2.25" fill="#fff" fill-opacity="0.82" stroke="#ee3a1c" stroke-width="2.45"/>
<circle cx="345.85" cy="88.6" r="2.25" fill="#fff" fill-opacity="0.82" stroke="#ee3a1c" stroke-width="2.45"/>
<circle cx="352.87" cy="86.9" r="2.25" fill="#fff" fill-opacity="0.82" stroke="#ee3a1c" stroke-width="2.45"/>
<circle cx="359.9" cy="85.2" r="2.25" fill="#fff" fill-opacity="0.82" stroke="#ee3a1c" stroke-width="2.45"/>
<circle cx="366.92" cy="83.5" r="2.25" fill="#fff" fill-opacity="0.82" stroke="#ee3a1c" stroke-width="2.45"/>
<circle cx="373.94" cy="81.8" r="2.25" fill="#fff" fill-opacity="0.82" stroke="#ee3a1c" stroke-width="2.45"/>
<circle cx="380.97" cy="80.1" r="2.25" fill="#fff" fill-opacity="0.82" stroke="#ee3a1c" stroke-width="2.45"/>
<circle cx="387.99" cy="78.4" r="2.25" fill="#fff" fill-opacity="0.82" stroke="#ee3a1c" stroke-width="2.45"/>
<circle cx="395.02" cy="76.7" r="2.25" fill="#fff" fill-opacity="0.82" stroke="#ee3a1c" stroke-width="2.45"/>
<circle cx="402.04" cy="75" r="2.25" fill="#fff" fill-opacity="0.82" stroke="#ee3a1c" stroke-width="2.45"/>
<circle cx="409.06" cy="73.3" r="2.25" fill="#fff" fill-opacity="0.82" stroke="#ee3a1c" stroke-width="2.45"/>
<circle cx="416.09" cy="71.6" r="2.25" fill="#fff" fill-opacity="0.82" stroke="#ee3a1c" stroke-width="2.45"/>
<circle cx="423.11" cy="69.9" r="2.25" fill="#fff" fill-opacity="0.82" stroke="#ee3a1c" stroke-width="2.45"/>
<circle cx="430.14" cy="68.2" r="2.25" fill="#fff" fill-opacity="0.82" stroke="#ee3a1c" stroke-width="2.45"/>
<circle cx="437.16" cy="66.5" r="2.25" fill="#fff" fill-opacity="0.82" stroke="#ee3a1c" stroke-width="2.45"/>
<circle cx="444.18" cy="64.8" r="2.25" fill="#fff" fill-opacity="0.82" stroke="#ee3a1c" stroke-width="2.45"/>
<circle cx="451.21" cy="63.1" r="2.25" fill="#fff" fill-opacity="0.82" stroke="#ee3a1c" stroke-width="2.45"/>
<circle cx="458.23" cy="60" r="2.25" fill="#fff" fill-opacity="0.82" stroke="#ee3a1c" stroke-width="2.45"/>
<circle cx="465.26" cy="56.3" r="2.25" fill="#fff" fill-opacity="0.82" stroke="#ee3a1c" stroke-width="2.45"/>
<circle cx="472.28" cy="50.3" r="2.25" fill="#fff" fill-opacity="0.82" stroke="#ee3a1c" stroke-width="2.45"/>
<circle cx="479.3" cy="35.5" r="2.25" fill="#fff" fill-opacity="0.82" stroke="#ee3a1c" stroke-width="2.45"/>
<circle cx="486.33" cy="23.2" r="2.25" fill="#fff" fill-opacity="0.82" stroke="#ee3a1c" stroke-width="2.45"/>
<circle cx="493.35" cy="48.8" r="2.25" fill="none" stroke="#ee3a1c" stroke-width="2.45"/>
<circle cx="500.38" cy="54.8" r="2.25" fill="#fff" fill-opacity="0.82" stroke="#ee3a1c" stroke-width="2.45"/>
<circle cx="507.4" cy="59.2" r="2.25" fill="#fff" fill-opacity="0.82" stroke="#ee3a1c" stroke-width="2.45"/>
<circle cx="514.42" cy="62.5" r="2.25" fill="#fff" fill-opacity="0.82" stroke="#ee3a1c" stroke-width="2.45"/>
<circle cx="521.45" cy="65.6" r="2.25" fill="#fff" fill-opacity="0.82" stroke="#ee3a1c" stroke-width="2.45"/>
<circle cx="528.47" cy="68.6" r="2.25" fill="#fff" fill-opacity="0.82" stroke="#ee3a1c" stroke-width="2.45"/>
<circle cx="535.5" cy="72.8" r="2.25" fill="#fff" fill-opacity="0.82" stroke="#ee3a1c" stroke-width="2.45"/>
</g>
<text x="359" y="34.2" class="k" font-size="15.6" font-style="italic">G</text>
<text x="369.9" y="38.6" class="k" font-size="9.9">io-q</text>
<text x="461.8" y="81.6" class="r" font-size="15.6" font-style="italic">G</text>
<text x="473.1" y="86.5" class="r" font-size="9.4">io-q</text>
<text x="475" y="75.6" class="r" font-size="9.5" style="stroke-width:0.25px">Vin-FF</text>
<text x="322.7" y="26.32" text-anchor="end">20</text>
<text x="322.7" y="39.8" text-anchor="end">0</text>
<text x="322.7" y="53.28" text-anchor="end">-20</text>
<text x="322.7" y="66.76" text-anchor="end">-40</text>
<text x="322.7" y="80.24" text-anchor="end">-60</text>
<text x="322.7" y="93.72" text-anchor="end">-80</text>
<text x="317.77" y="117.8">10<tspan dx="0.4" dy="-6.5" font-size="11.3">0</tspan></text>
<text x="375.07" y="117.8">10<tspan dx="0.4" dy="-6.5" font-size="11.3">1</tspan></text>
<text x="432.37" y="117.8">10<tspan dx="0.4" dy="-6.5" font-size="11.3">2</tspan></text>
<text x="489.67" y="117.8">10<tspan dx="0.4" dy="-6.5" font-size="11.3">3</tspan></text>
<text transform="translate(296.7 55) rotate(-90)" text-anchor="middle">Magnitude (dB)</text>
</g>
<g id="b-ph">
<line x1="327.7" x2="539.65" y1="204.95" y2="204.95" stroke="#e2e2e2" stroke-width="1"/>
<line x1="344.95" x2="344.95" y1="145.7" y2="225.1" stroke="#666" stroke-width="1" stroke-dasharray="1 2.07"/>
<line x1="355.04" x2="355.04" y1="145.7" y2="225.1" stroke="#666" stroke-width="1" stroke-dasharray="1 2.07"/>
<line x1="362.2" x2="362.2" y1="145.7" y2="225.1" stroke="#666" stroke-width="1" stroke-dasharray="1 2.07"/>
<line x1="367.75" x2="367.75" y1="145.7" y2="225.1" stroke="#666" stroke-width="1" stroke-dasharray="1 2.07"/>
<line x1="372.29" x2="372.29" y1="145.7" y2="225.1" stroke="#666" stroke-width="1" stroke-dasharray="1 2.07"/>
<line x1="376.12" x2="376.12" y1="145.7" y2="225.1" stroke="#666" stroke-width="1" stroke-dasharray="1 2.07"/>
<line x1="379.45" x2="379.45" y1="145.7" y2="225.1" stroke="#666" stroke-width="1" stroke-dasharray="1 2.07"/>
<line x1="382.38" x2="382.38" y1="145.7" y2="225.1" stroke="#666" stroke-width="1" stroke-dasharray="1 2.07"/>
<line x1="402.25" x2="402.25" y1="145.7" y2="225.1" stroke="#666" stroke-width="1" stroke-dasharray="1 2.07"/>
<line x1="412.34" x2="412.34" y1="145.7" y2="225.1" stroke="#666" stroke-width="1" stroke-dasharray="1 2.07"/>
<line x1="419.5" x2="419.5" y1="145.7" y2="225.1" stroke="#666" stroke-width="1" stroke-dasharray="1 2.07"/>
<line x1="425.05" x2="425.05" y1="145.7" y2="225.1" stroke="#666" stroke-width="1" stroke-dasharray="1 2.07"/>
<line x1="429.59" x2="429.59" y1="145.7" y2="225.1" stroke="#666" stroke-width="1" stroke-dasharray="1 2.07"/>
<line x1="433.42" x2="433.42" y1="145.7" y2="225.1" stroke="#666" stroke-width="1" stroke-dasharray="1 2.07"/>
<line x1="436.75" x2="436.75" y1="145.7" y2="225.1" stroke="#666" stroke-width="1" stroke-dasharray="1 2.07"/>
<line x1="439.68" x2="439.68" y1="145.7" y2="225.1" stroke="#666" stroke-width="1" stroke-dasharray="1 2.07"/>
<line x1="459.55" x2="459.55" y1="145.7" y2="225.1" stroke="#666" stroke-width="1" stroke-dasharray="1 2.07"/>
<line x1="469.64" x2="469.64" y1="145.7" y2="225.1" stroke="#666" stroke-width="1" stroke-dasharray="1 2.07"/>
<line x1="476.8" x2="476.8" y1="145.7" y2="225.1" stroke="#666" stroke-width="1" stroke-dasharray="1 2.07"/>
<line x1="482.35" x2="482.35" y1="145.7" y2="225.1" stroke="#666" stroke-width="1" stroke-dasharray="1 2.07"/>
<line x1="486.89" x2="486.89" y1="145.7" y2="225.1" stroke="#666" stroke-width="1" stroke-dasharray="1 2.07"/>
<line x1="490.72" x2="490.72" y1="145.7" y2="225.1" stroke="#666" stroke-width="1" stroke-dasharray="1 2.07"/>
<line x1="494.05" x2="494.05" y1="145.7" y2="225.1" stroke="#666" stroke-width="1" stroke-dasharray="1 2.07"/>
<line x1="496.98" x2="496.98" y1="145.7" y2="225.1" stroke="#666" stroke-width="1" stroke-dasharray="1 2.07"/>
<line x1="516.85" x2="516.85" y1="145.7" y2="225.1" stroke="#666" stroke-width="1" stroke-dasharray="1 2.07"/>
<line x1="526.94" x2="526.94" y1="145.7" y2="225.1" stroke="#666" stroke-width="1" stroke-dasharray="1 2.07"/>
<line x1="534.1" x2="534.1" y1="145.7" y2="225.1" stroke="#666" stroke-width="1" stroke-dasharray="1 2.07"/>
<line x1="385" x2="385" y1="144.5" y2="225.1" stroke="#b3b3b3" stroke-width="1.1"/>
<line x1="442.3" x2="442.3" y1="144.5" y2="225.1" stroke="#b3b3b3" stroke-width="1.1"/>
<line x1="499.6" x2="499.6" y1="144.5" y2="225.1" stroke="#b3b3b3" stroke-width="1.1"/>
<line x1="327.7" x2="539.65" y1="164.65" y2="164.65" stroke="#5a5a5a" stroke-width="1.3" stroke-dasharray="8 6"/>
<line x1="327.7" x2="539.65" y1="184.8" y2="184.8" stroke="#5a5a5a" stroke-width="1.3" stroke-dasharray="8 6"/>
<clipPath id="cBp"><rect x="327.4" y="144.2" width="212.85" height="81.4"/></clipPath>
<rect x="327.7" y="144.5" width="211.95" height="80.6" fill="none" stroke="#4d4d4d" stroke-width="1"/>
<path d="M327.7 164.65h2.2M539.65 164.65h-2.2M327.7 184.8h2.2M539.65 184.8h-2.2M327.7 204.95h2.2M539.65 204.95h-2.2M344.95 225.1v-1.1 M344.95 144.5v1.1M355.04 225.1v-1.1 M355.04 144.5v1.1M362.2 225.1v-1.1 M362.2 144.5v1.1M367.75 225.1v-1.1 M367.75 144.5v1.1M372.29 225.1v-1.1 M372.29 144.5v1.1M376.12 225.1v-1.1 M376.12 144.5v1.1M379.45 225.1v-1.1 M379.45 144.5v1.1M382.38 225.1v-1.1 M382.38 144.5v1.1M385 225.1v-2.2 M385 144.5v2.2M402.25 225.1v-1.1 M402.25 144.5v1.1M412.34 225.1v-1.1 M412.34 144.5v1.1M419.5 225.1v-1.1 M419.5 144.5v1.1M425.05 225.1v-1.1 M425.05 144.5v1.1M429.59 225.1v-1.1 M429.59 144.5v1.1M433.42 225.1v-1.1 M433.42 144.5v1.1M436.75 225.1v-1.1 M436.75 144.5v1.1M439.68 225.1v-1.1 M439.68 144.5v1.1M442.3 225.1v-2.2 M442.3 144.5v2.2M459.55 225.1v-1.1 M459.55 144.5v1.1M469.64 225.1v-1.1 M469.64 144.5v1.1M476.8 225.1v-1.1 M476.8 144.5v1.1M482.35 225.1v-1.1 M482.35 144.5v1.1M486.89 225.1v-1.1 M486.89 144.5v1.1M490.72 225.1v-1.1 M490.72 144.5v1.1M494.05 225.1v-1.1 M494.05 144.5v1.1M496.98 225.1v-1.1 M496.98 144.5v1.1M499.6 225.1v-2.2 M499.6 144.5v2.2M516.85 225.1v-1.1 M516.85 144.5v1.1M526.94 225.1v-1.1 M526.94 144.5v1.1M534.1 225.1v-1.1 M534.1 144.5v1.1" stroke="#4d4d4d" stroke-width="0.8" fill="none"/>
<g>
<polyline clip-path="url(#cBp)" points="327.7,164.1 387.99,164.2 395.02,164.3 402.04,164.5 409.06,165 416.09,165.5 423.11,166.1 430.14,166.8 437.16,167.7 444.18,168.4 451.21,169.3 458.23,170.2 465.26,171.6 472.28,173 479.3,175.7 480.4,177 481.3,194.5 485.5,198.2 486.6,207 487.4,216.6 493,219.3 500,220.9 507.3,222.6 514.5,225 518,227" fill="none" stroke="#111111" stroke-width="2.3" stroke-linejoin="round" stroke-linecap="butt"/>
<circle cx="331.8" cy="164.1" r="2.3" fill="none" stroke="#111111" stroke-width="2.6"/>
<circle cx="338.82" cy="164.1" r="2.3" fill="none" stroke="#111111" stroke-width="2.6"/>
<circle cx="345.85" cy="164.1" r="2.3" fill="none" stroke="#111111" stroke-width="2.6"/>
<circle cx="352.87" cy="164.1" r="2.3" fill="none" stroke="#111111" stroke-width="2.6"/>
<circle cx="359.9" cy="164.1" r="2.3" fill="none" stroke="#111111" stroke-width="2.6"/>
<circle cx="366.92" cy="164.1" r="2.3" fill="none" stroke="#111111" stroke-width="2.6"/>
<circle cx="373.94" cy="164.1" r="2.3" fill="none" stroke="#111111" stroke-width="2.6"/>
<circle cx="380.97" cy="164.1" r="2.3" fill="none" stroke="#111111" stroke-width="2.6"/>
<circle cx="387.99" cy="164.2" r="2.3" fill="none" stroke="#111111" stroke-width="2.6"/>
<circle cx="395.02" cy="164.3" r="2.3" fill="none" stroke="#111111" stroke-width="2.6"/>
<circle cx="402.04" cy="164.5" r="2.3" fill="none" stroke="#111111" stroke-width="2.6"/>
<circle cx="409.06" cy="164.7" r="2.3" fill="none" stroke="#111111" stroke-width="2.6"/>
<circle cx="416.09" cy="164.9" r="2.3" fill="none" stroke="#111111" stroke-width="2.6"/>
<circle cx="423.11" cy="165.2" r="2.3" fill="none" stroke="#111111" stroke-width="2.6"/>
<circle cx="430.14" cy="165.6" r="2.3" fill="none" stroke="#111111" stroke-width="2.6"/>
<circle cx="437.16" cy="166.2" r="2.3" fill="none" stroke="#111111" stroke-width="2.6"/>
<circle cx="444.18" cy="166.8" r="2.3" fill="none" stroke="#111111" stroke-width="2.6"/>
<circle cx="451.21" cy="167.7" r="2.3" fill="none" stroke="#111111" stroke-width="2.6"/>
<circle cx="458.23" cy="168.6" r="2.3" fill="none" stroke="#111111" stroke-width="2.6"/>
<circle cx="465.26" cy="170" r="2.3" fill="none" stroke="#111111" stroke-width="2.6"/>
<circle cx="472.28" cy="171.4" r="2.3" fill="none" stroke="#111111" stroke-width="2.6"/>
<circle cx="479.3" cy="174.1" r="2.3" fill="none" stroke="#111111" stroke-width="2.6"/>
<circle cx="486.33" cy="207.3" r="2.3" fill="none" stroke="#111111" stroke-width="2.6"/>
<circle cx="493.35" cy="216.7" r="2.3" fill="none" stroke="#111111" stroke-width="2.6"/>
<circle cx="500.38" cy="218.2" r="2.3" fill="none" stroke="#111111" stroke-width="2.6"/>
<circle cx="507.4" cy="219.6" r="2.3" fill="none" stroke="#111111" stroke-width="2.6"/>
<circle cx="514.42" cy="221.5" r="2.3" fill="none" stroke="#111111" stroke-width="2.6"/>
<circle cx="521.45" cy="222.2" r="2.3" fill="none" stroke="#111111" stroke-width="2.6"/>
<circle cx="528.47" cy="222.5" r="2.3" fill="none" stroke="#111111" stroke-width="2.6"/>
<circle cx="535.5" cy="222.7" r="2.3" fill="none" stroke="#111111" stroke-width="2.6"/>
<polyline clip-path="url(#cBp)" points="327.7,157.6 330,159 332,160.3 334.5,158.2 337,156.4 339.5,158.6 342,157 345,158.8 348,156.6 351,158.4 354,156.6 357,157.8 360,156.4 364,157.4 368,156.2 372,157 376,156 380,156.4 387.99,155.7 395.02,155.8 402.04,156 409.06,156.2 416.09,156.5 423.11,156.8 430.14,157.2 437.16,157.8 444.18,158.7 451.21,159.7 458.23,160.9 465.26,162.4 472.28,164.2 479.6,166.5 481,170 481.8,187.3 486,192.7 487.2,199.5 490,207 493.3,210.4 500,213 507.3,215.6 514,218.6 519.5,224.6 521.5,227" fill="none" stroke="#ee3a1c" stroke-width="2.4" stroke-linejoin="round" stroke-linecap="butt"/>
<circle cx="331.8" cy="153.8" r="2.25" fill="#fff" fill-opacity="0.82" stroke="#ee3a1c" stroke-width="2.45"/>
<circle cx="338.82" cy="153.8" r="2.25" fill="#fff" fill-opacity="0.82" stroke="#ee3a1c" stroke-width="2.45"/>
<circle cx="345.85" cy="153.8" r="2.25" fill="#fff" fill-opacity="0.82" stroke="#ee3a1c" stroke-width="2.45"/>
<circle cx="352.87" cy="153.8" r="2.25" fill="#fff" fill-opacity="0.82" stroke="#ee3a1c" stroke-width="2.45"/>
<circle cx="359.9" cy="153.8" r="2.25" fill="#fff" fill-opacity="0.82" stroke="#ee3a1c" stroke-width="2.45"/>
<circle cx="366.92" cy="153.8" r="2.25" fill="#fff" fill-opacity="0.82" stroke="#ee3a1c" stroke-width="2.45"/>
<circle cx="373.94" cy="153.8" r="2.25" fill="#fff" fill-opacity="0.82" stroke="#ee3a1c" stroke-width="2.45"/>
<circle cx="380.97" cy="153.8" r="2.25" fill="#fff" fill-opacity="0.82" stroke="#ee3a1c" stroke-width="2.45"/>
<circle cx="387.99" cy="153.8" r="2.25" fill="#fff" fill-opacity="0.82" stroke="#ee3a1c" stroke-width="2.45"/>
<circle cx="395.02" cy="153.9" r="2.25" fill="#fff" fill-opacity="0.82" stroke="#ee3a1c" stroke-width="2.45"/>
<circle cx="402.04" cy="154.1" r="2.25" fill="#fff" fill-opacity="0.82" stroke="#ee3a1c" stroke-width="2.45"/>
<circle cx="409.06" cy="154.3" r="2.25" fill="#fff" fill-opacity="0.82" stroke="#ee3a1c" stroke-width="2.45"/>
<circle cx="416.09" cy="154.6" r="2.25" fill="#fff" fill-opacity="0.82" stroke="#ee3a1c" stroke-width="2.45"/>
<circle cx="423.11" cy="154.9" r="2.25" fill="#fff" fill-opacity="0.82" stroke="#ee3a1c" stroke-width="2.45"/>
<circle cx="430.14" cy="155.3" r="2.25" fill="#fff" fill-opacity="0.82" stroke="#ee3a1c" stroke-width="2.45"/>
<circle cx="437.16" cy="155.9" r="2.25" fill="#fff" fill-opacity="0.82" stroke="#ee3a1c" stroke-width="2.45"/>
<circle cx="444.18" cy="156.8" r="2.25" fill="#fff" fill-opacity="0.82" stroke="#ee3a1c" stroke-width="2.45"/>
<circle cx="451.21" cy="157.8" r="2.25" fill="#fff" fill-opacity="0.82" stroke="#ee3a1c" stroke-width="2.45"/>
<circle cx="458.23" cy="159" r="2.25" fill="#fff" fill-opacity="0.82" stroke="#ee3a1c" stroke-width="2.45"/>
<circle cx="465.26" cy="160.5" r="2.25" fill="#fff" fill-opacity="0.82" stroke="#ee3a1c" stroke-width="2.45"/>
<circle cx="472.28" cy="162.3" r="2.25" fill="#fff" fill-opacity="0.82" stroke="#ee3a1c" stroke-width="2.45"/>
<circle cx="479.3" cy="165" r="2.25" fill="#fff" fill-opacity="0.82" stroke="#ee3a1c" stroke-width="2.45"/>
<circle cx="486.33" cy="199.1" r="2.25" fill="#fff" fill-opacity="0.82" stroke="#ee3a1c" stroke-width="2.45"/>
<circle cx="493.35" cy="208.7" r="2.25" fill="#fff" fill-opacity="0.82" stroke="#ee3a1c" stroke-width="2.45"/>
<circle cx="500.38" cy="211.3" r="2.25" fill="#fff" fill-opacity="0.82" stroke="#ee3a1c" stroke-width="2.45"/>
<circle cx="507.4" cy="213.6" r="2.25" fill="#fff" fill-opacity="0.82" stroke="#ee3a1c" stroke-width="2.45"/>
<circle cx="514.42" cy="216" r="2.25" fill="#fff" fill-opacity="0.82" stroke="#ee3a1c" stroke-width="2.45"/>
<circle cx="521.45" cy="218.5" r="2.25" fill="#fff" fill-opacity="0.82" stroke="#ee3a1c" stroke-width="2.45"/>
<circle cx="528.47" cy="222.2" r="2.25" fill="#fff" fill-opacity="0.82" stroke="#ee3a1c" stroke-width="2.45"/>
</g>
<text x="322.7" y="149.6" text-anchor="end">180</text>
<text x="322.7" y="169.75" text-anchor="end">0</text>
<text x="322.7" y="189.9" text-anchor="end">-180</text>
<text x="322.7" y="210.05" text-anchor="end">-360</text>
<text x="322.7" y="230.2" text-anchor="end">-540</text>
<text x="317.77" y="247.5">10<tspan dx="0.4" dy="-6.5" font-size="11.3">0</tspan></text>
<text x="375.07" y="247.5">10<tspan dx="0.4" dy="-6.5" font-size="11.3">1</tspan></text>
<text x="432.37" y="247.5">10<tspan dx="0.4" dy="-6.5" font-size="11.3">2</tspan></text>
<text x="489.67" y="247.5">10<tspan dx="0.4" dy="-6.5" font-size="11.3">3</tspan></text>
<text transform="translate(289.8 185) rotate(-90)" text-anchor="middle">Phase (deg)</text>
<text x="433.2" y="265.3" text-anchor="middle">Frequency (Hz)</text>
<text x="410.6" y="286.6" text-anchor="middle" font-size="10.8" font-weight="bold" fill="#222">(b)</text>
</g>
</svg></body></html>
